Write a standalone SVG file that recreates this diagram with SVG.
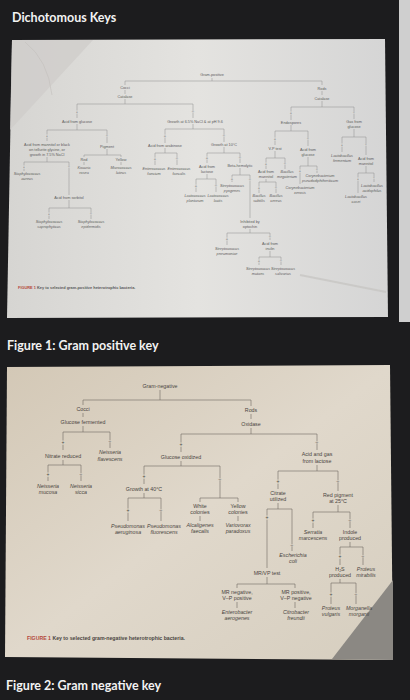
<svg xmlns="http://www.w3.org/2000/svg" width="410" height="700" viewBox="0 0 410 700">
<defs>
<linearGradient id="p1" x1="0" y1="0" x2="1" y2="0">
<stop offset="0" stop-color="#d6d5d2"/><stop offset="0.5" stop-color="#e4e3e0"/><stop offset="1" stop-color="#d5d5d5"/>
</linearGradient>
<linearGradient id="p2" x1="0" y1="0" x2="1" y2="1">
<stop offset="0" stop-color="#d3c8b6"/><stop offset="0.5" stop-color="#e0d8cb"/><stop offset="1" stop-color="#d6cebf"/>
</linearGradient>
<style>
.h{font-family:Lato,"Liberation Sans",sans-serif;font-weight:700;fill:#f2f2f2;font-size:12.5px}
.t1{font-family:"Liberation Sans",Arial,sans-serif;font-size:3.8px;fill:#5e5e5e;text-anchor:middle}
.t2{font-family:"Liberation Sans",Arial,sans-serif;font-size:5.3px;fill:#4a453f;text-anchor:middle}
.i{font-style:italic}
.c1{fill:none;stroke:#8c8c8c;stroke-width:0.5}
.c2{fill:none;stroke:#6f6961;stroke-width:0.6}
.s1{font-family:"Liberation Sans",sans-serif;font-size:4px;fill:#666;text-anchor:middle;stroke:#dfdedb;stroke-width:1.2;paint-order:stroke}
.s2{font-family:"Liberation Sans",sans-serif;font-size:5px;fill:#4a453f;text-anchor:middle;stroke:#dbd3c5;stroke-width:1.4;paint-order:stroke}
.cap1{font-family:"Liberation Sans",sans-serif;font-size:3.9px;font-weight:700;fill:#5a5a5a}
.cap2{font-family:"Liberation Sans",sans-serif;font-size:5.2px;font-weight:700;fill:#4a453f}
.red{fill:#b4483c}
</style>
</defs>
<rect width="410" height="700" fill="#1c1c1e"/>
<rect x="399" y="0" width="11" height="322" fill="#cfcfcf"/>
<text class="h" x="12" y="22">Dichotomous Keys</text>

<!-- paper 1 -->
<polygon points="12,40 385,39 388,317 7,318" fill="url(#p1)"/>
<polygon points="12,40 93,40 10,130" fill="#cfcdca" opacity="0.8"/>
<path d="M25 42 Q48 60 52 95" fill="none" stroke="#c2c0bc" stroke-width="0.6"/>
<path d="M300 275 Q340 283 386 292" fill="none" stroke="#c4c3c0" stroke-width="2" opacity="0.7"/>

<text class="h" x="7" y="350">Figure 1: Gram positive key</text>

<!-- paper 2 -->
<polygon points="7,367 390,365 393,660 5,657" fill="url(#p2)"/>
<polygon points="332,659 393,580 393,660" fill="#8b8883"/>

<text class="h" x="6" y="690">Figure 2: Gram negative key</text>

<!-- connectors -->
<g id="connectors">
<path class="c1" d="M212 78V81M125 81H322M125 81V85M125 90V94M125 99V104M77 104H193M77 104V118M77 124V130M47 130H107M47 130V141M47 157V162M24 162H69M24 162V171M69 162V195M69 200V208M49 208H91M49 208V219M91 208V219M107 130V143M107 149V155M84 155H121M84 155V157M121 155V157M84 162V165M121 162V165M193 104V118M193 124V129M165 129H224M165 129V143M165 148V153M155 153H177M155 153V165M177 153V165M224 129V142M224 147V153M207 153H240M207 153V163M207 174V179M196 179H216M196 179V192M216 179V192M240 153V163M240 168V175M232 175H250M232 175V182M250 175V218M250 229V233M227 233H270M227 233V245M270 233V240M270 251V257M259 257H281M259 257V265M281 257V265M322 81V85M322 91V95M322 101V107M291 107H354M291 107V120M291 125V131M275 131H308M275 131V145M275 151V158M266 158H285M266 158V169M266 179V182M259 182H276M259 182V193M276 182V193M285 158V169M308 131V146M308 157V166M300 166H317M300 166V184M317 166V173M354 107V119M354 129V137M342 137H366M342 137V152M366 137V155M366 166V173M358 173H374M358 173V193M374 173V182"/>
<path class="c2" d="M160 390V400M83 400H251M83 400V405M83 413V417M83 426V432M63 432H110M63 432V450M63 460V465M48 465H81M48 465V481M81 465V481M110 432V448M251 400V406M251 414V419M251 428V434M181 434H317M181 434V452M181 461V466M144 466H220M144 466V484M144 493V498M128 498H161M128 498V521M161 498V521M220 466V498M200 498H238M200 498V502M238 498V502M200 516V521M238 516V521M317 434V450M317 465V471M278 471H338M278 471V489M278 503V509M267 509H292M267 509V568M267 577V584M237 584H295M237 584V588M295 584V588M237 602V608M295 602V608M292 509V551M338 471V491M338 505V512M313 512H350M313 512V528M350 512V528M350 542V547M340 547H363M340 547V565M363 547V565M340 579V583M331 583H356M331 583V604M356 583V604"/>
<g id="signs1">
<text class="s1" x="77" y="113">+</text><text class="s1" x="193" y="113">−</text>
<text class="s1" x="47" y="137">+</text><text class="s1" x="107" y="137">−</text>
<text class="s1" x="24" y="168">+</text><text class="s1" x="69" y="168">−</text>
<text class="s1" x="49" y="215">+</text><text class="s1" x="91" y="215">−</text>
<text class="s1" x="165" y="137">+</text><text class="s1" x="224" y="137">−</text>
<text class="s1" x="155" y="160">+</text><text class="s1" x="177" y="160">−</text>
<text class="s1" x="207" y="159">+</text><text class="s1" x="240" y="159">−</text>
<text class="s1" x="196" y="187">+</text><text class="s1" x="216" y="187">−</text>
<text class="s1" x="232" y="180">+</text><text class="s1" x="250" y="181">−</text>
<text class="s1" x="227" y="240">+</text><text class="s1" x="270" y="238">−</text>
<text class="s1" x="259" y="262">+</text><text class="s1" x="281" y="262">−</text>
<text class="s1" x="291" y="114">+</text><text class="s1" x="354" y="114">−</text>
<text class="s1" x="275" y="140">+</text><text class="s1" x="308" y="140">−</text>
<text class="s1" x="266" y="165">+</text><text class="s1" x="285" y="165">−</text>
<text class="s1" x="259" y="189">+</text><text class="s1" x="276" y="189">−</text>
<text class="s1" x="300" y="172">+</text><text class="s1" x="317" y="171">−</text>
<text class="s1" x="342" y="146">+</text><text class="s1" x="366" y="146">−</text>
<text class="s1" x="358" y="180">+</text><text class="s1" x="374" y="179">−</text>
</g>
<g id="signs2">
<text class="s2" x="63" y="444">+</text><text class="s2" x="110" y="443">−</text>
<text class="s2" x="48" y="476">+</text><text class="s2" x="81" y="476">−</text>
<text class="s2" x="181" y="446">+</text><text class="s2" x="317" y="444">−</text>
<text class="s2" x="144" y="478">+</text><text class="s2" x="220" y="481">−</text>
<text class="s2" x="128" y="512">+</text><text class="s2" x="161" y="512">−</text>
<text class="s2" x="278" y="483">+</text><text class="s2" x="338" y="483">−</text>
<text class="s2" x="267" y="519">+</text><text class="s2" x="292" y="547">−</text>
<text class="s2" x="313" y="522">+</text><text class="s2" x="350" y="522">−</text>
<text class="s2" x="340" y="558">+</text><text class="s2" x="363" y="558">−</text>
<text class="s2" x="331" y="596">+</text><text class="s2" x="356" y="596">−</text>
</g>
</g>

<!-- figure 1 nodes -->
<g id="gp-root"><text class="t1" x="212" y="76">Gram-positive</text></g>
<g id="gp-cocci"><text class="t1" x="125" y="89">Cocci</text><text class="t1" x="125" y="98">Catalase</text></g>
<g id="gp-acidglucose"><text class="t1" x="77" y="123">Acid from glucose</text></g>
<g id="gp-mannitol"><text class="t1" x="47" y="146">Acid from mannitol or black</text><text class="t1" x="47" y="151">on tellurite glycine, or</text><text class="t1" x="47" y="156">growth in 7.5% NaCl</text></g>
<g id="gp-saureus"><text class="t1 i" x="27" y="175">Staphylococcus</text><text class="t1 i" x="27" y="180">aureus</text></g>
<g id="gp-sorbitol"><text class="t1" x="69" y="199">Acid from sorbitol</text></g>
<g id="gp-ssapro"><text class="t1 i" x="49" y="223">Staphylococcus</text><text class="t1 i" x="49" y="228">saprophyticus</text></g>
<g id="gp-sepi"><text class="t1 i" x="91" y="223">Staphylococcus</text><text class="t1 i" x="91" y="228">epidermidis</text></g>
<g id="gp-pigment"><text class="t1" x="107" y="148">Pigment</text></g>
<g id="gp-red"><text class="t1" x="84" y="161">Red</text><text class="t1 i" x="84" y="169">Kocuria</text><text class="t1 i" x="84" y="174">rosea</text></g>
<g id="gp-yellow"><text class="t1" x="121" y="161">Yellow</text><text class="t1 i" x="121" y="169">Micrococcus</text><text class="t1 i" x="121" y="174">luteus</text></g>
<g id="gp-growth65"><text class="t1" x="195" y="123">Growth at 6.5% NaCl &amp; at pH 9.6</text></g>
<g id="gp-arabinose"><text class="t1" x="165" y="147">Acid from arabinose</text></g>
<g id="gp-efaecium"><text class="t1 i" x="154" y="170">Enterococcus</text><text class="t1 i" x="154" y="175">faecium</text></g>
<g id="gp-efaecalis"><text class="t1 i" x="179" y="170">Enterococcus</text><text class="t1 i" x="179" y="175">faecalis</text></g>
<g id="gp-growth10"><text class="t1" x="224" y="146">Growth at 10°C</text></g>
<g id="gp-lactose"><text class="t1" x="207" y="168">Acid from</text><text class="t1" x="207" y="173">lactose</text></g>
<g id="gp-lplant"><text class="t1 i" x="195" y="197">Lactococcus</text><text class="t1 i" x="195" y="202">plantarum</text></g>
<g id="gp-llactis"><text class="t1 i" x="218" y="197">Lactococcus</text><text class="t1 i" x="218" y="202">lactis</text></g>
<g id="gp-beta"><text class="t1" x="240" y="167">Beta-hemolytic</text></g>
<g id="gp-spyo"><text class="t1 i" x="232" y="187">Streptococcus</text><text class="t1 i" x="232" y="192">pyogenes</text></g>
<g id="gp-optochin"><text class="t1" x="250" y="223">Inhibited by</text><text class="t1" x="250" y="228">optochin</text></g>
<g id="gp-spneu"><text class="t1 i" x="227" y="250">Streptococcus</text><text class="t1 i" x="227" y="255">pneumoniae</text></g>
<g id="gp-inulin"><text class="t1" x="270" y="245">Acid from</text><text class="t1" x="270" y="250">inulin</text></g>
<g id="gp-smutans"><text class="t1 i" x="258" y="270">Streptococcus</text><text class="t1 i" x="258" y="275">mutans</text></g>
<g id="gp-ssal"><text class="t1 i" x="283" y="270">Streptococcus</text><text class="t1 i" x="283" y="275">salivarius</text></g>
<g id="gp-rods"><text class="t1" x="322" y="90">Rods</text><text class="t1" x="322" y="100">Catalase</text></g>
<g id="gp-endospores"><text class="t1" x="291" y="124">Endospores</text></g>
<g id="gp-vp"><text class="t1" x="275" y="150">V-P test</text></g>
<g id="gp-mannitol2"><text class="t1" x="266" y="173">Acid from</text><text class="t1" x="266" y="178">mannitol</text></g>
<g id="gp-bsub"><text class="t1 i" x="259" y="197">Bacillus</text><text class="t1 i" x="259" y="202">subtilis</text></g>
<g id="gp-bcer"><text class="t1 i" x="276" y="197">Bacillus</text><text class="t1 i" x="276" y="202">cereus</text></g>
<g id="gp-bmeg"><text class="t1 i" x="287" y="173">Bacillus</text><text class="t1 i" x="287" y="178">megaterium</text></g>
<g id="gp-acidglu2"><text class="t1" x="308" y="151">Acid from</text><text class="t1" x="308" y="156">glucose</text></g>
<g id="gp-cxer"><text class="t1 i" x="300" y="189">Corynebacterium</text><text class="t1 i" x="300" y="194">xerosis</text></g>
<g id="gp-cpseudo"><text class="t1 i" x="320" y="177">Corynebacterium</text><text class="t1 i" x="320" y="182">pseudodiphtheriticum</text></g>
<g id="gp-gas"><text class="t1" x="354" y="123">Gas from</text><text class="t1" x="354" y="128">glucose</text></g>
<g id="gp-lferm"><text class="t1 i" x="342" y="157">Lactobacillus</text><text class="t1 i" x="342" y="162">fermentum</text></g>
<g id="gp-mannitol3"><text class="t1" x="366" y="160">Acid from</text><text class="t1" x="366" y="165">mannitol</text></g>
<g id="gp-lcasei"><text class="t1 i" x="356" y="198">Lactobacillus</text><text class="t1 i" x="356" y="203">casei</text></g>
<g id="gp-lacido"><text class="t1 i" x="372" y="187">Lactobacillus</text><text class="t1 i" x="372" y="192">acidophilus</text></g>
<g id="gp-caption"><text class="cap1" x="18" y="289"><tspan class="red">FIGURE 1</tspan>  Key to selected gram-positive heterotrophic bacteria.</text></g>

<!-- figure 2 nodes -->
<g id="gn-root"><text class="t2" x="160" y="388">Gram-negative</text></g>
<g id="gn-cocci"><text class="t2" x="83" y="411">Cocci</text><text class="t2" x="83" y="424">Glucose fermented</text></g>
<g id="gn-nitrate"><text class="t2" x="63" y="458">Nitrate reduced</text></g>
<g id="gn-nmucosa"><text class="t2 i" x="48" y="488">Neisseria</text><text class="t2 i" x="48" y="494">mucosa</text></g>
<g id="gn-nsicca"><text class="t2 i" x="81" y="488">Neisseria</text><text class="t2 i" x="81" y="494">sicca</text></g>
<g id="gn-nflav"><text class="t2 i" x="110" y="454">Neisseria</text><text class="t2 i" x="110" y="461">flavescens</text></g>
<g id="gn-rods"><text class="t2" x="251" y="412">Rods</text><text class="t2" x="251" y="426">Oxidase</text></g>
<g id="gn-glucox"><text class="t2" x="181" y="459">Glucose oxidized</text></g>
<g id="gn-growth40"><text class="t2" x="144" y="491">Growth at 40°C</text></g>
<g id="gn-paer"><text class="t2 i" x="128" y="528">Pseudomonas</text><text class="t2 i" x="128" y="534">aeruginosa</text></g>
<g id="gn-pflu"><text class="t2 i" x="164" y="528">Pseudomonas</text><text class="t2 i" x="164" y="534">fluorescens</text></g>
<g id="gn-white"><text class="t2" x="200" y="508">White</text><text class="t2" x="200" y="514">colonies</text><text class="t2 i" x="200" y="527">Alcaligenes</text><text class="t2 i" x="200" y="533">faecalis</text></g>
<g id="gn-yellow"><text class="t2" x="238" y="508">Yellow</text><text class="t2" x="238" y="514">colonies</text><text class="t2 i" x="238" y="527">Variovorax</text><text class="t2 i" x="238" y="533">paradoxus</text></g>
<g id="gn-lactose"><text class="t2" x="317" y="456">Acid and gas</text><text class="t2" x="317" y="463">from lactose</text></g>
<g id="gn-citrate"><text class="t2" x="278" y="495">Citrate</text><text class="t2" x="278" y="501">utilized</text></g>
<g id="gn-mrvp"><text class="t2" x="267" y="575">MR/VP test</text></g>
<g id="gn-mrneg"><text class="t2" x="237" y="594">MR negative,</text><text class="t2" x="237" y="600">V–P positive</text><text class="t2 i" x="237" y="614">Enterobacter</text><text class="t2 i" x="237" y="620">aerogenes</text></g>
<g id="gn-mrpos"><text class="t2" x="296" y="594">MR positive,</text><text class="t2" x="296" y="600">V–P negative</text><text class="t2 i" x="296" y="614">Citrobacter</text><text class="t2 i" x="296" y="620">freundii</text></g>
<g id="gn-ecoli"><text class="t2 i" x="293" y="557">Escherichia</text><text class="t2 i" x="293" y="563">coli</text></g>
<g id="gn-redpig"><text class="t2" x="338" y="497">Red pigment</text><text class="t2" x="338" y="503">at 25°C</text></g>
<g id="gn-serratia"><text class="t2 i" x="313" y="534">Serratia</text><text class="t2 i" x="313" y="540">marcescens</text></g>
<g id="gn-indole"><text class="t2" x="350" y="534">Indole</text><text class="t2" x="350" y="540">produced</text></g>
<g id="gn-h2s"><text class="t2" x="340" y="571">H<tspan font-size="3.5px" dy="1">2</tspan><tspan dy="-1">S</tspan></text><text class="t2" x="340" y="577">produced</text></g>
<g id="gn-pmir"><text class="t2 i" x="366" y="571">Proteus</text><text class="t2 i" x="366" y="577">mirabilis</text></g>
<g id="gn-pvul"><text class="t2 i" x="331" y="610">Proteus</text><text class="t2 i" x="331" y="616">vulgaris</text></g>
<g id="gn-morg"><text class="t2 i" x="359" y="610">Morganella</text><text class="t2 i" x="359" y="616">morganii</text></g>
<g id="gn-caption"><text class="cap2" x="27" y="640"><tspan class="red">FIGURE 1</tspan>  Key to selected gram-negative heterotrophic bacteria.</text></g>
</svg>
